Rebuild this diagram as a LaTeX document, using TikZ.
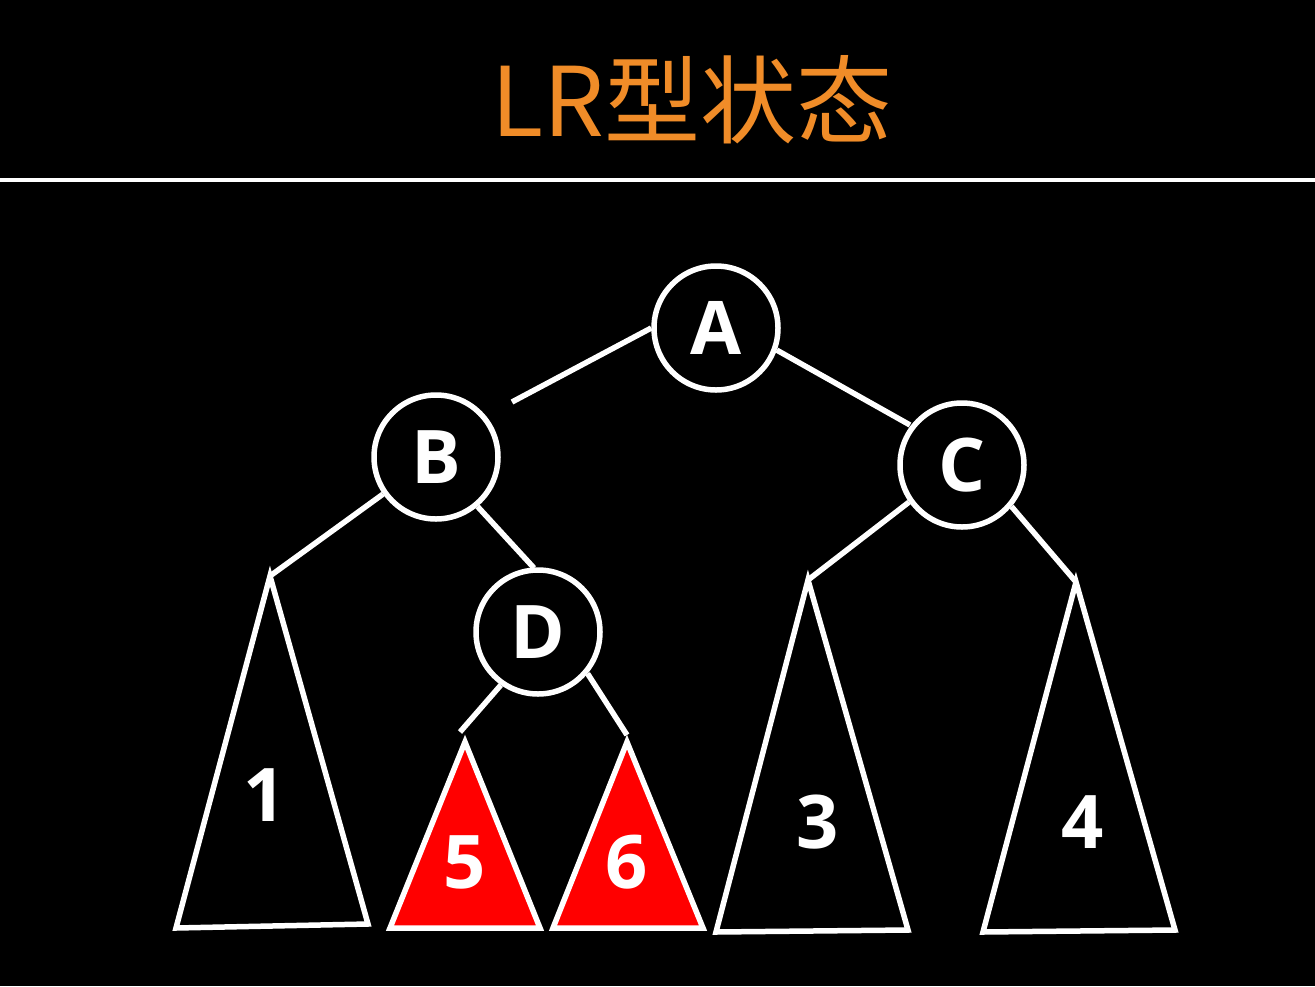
\documentclass[tikz,border=0pt]{standalone}
\usepackage{fontspec}
\setmainfont{Open Sans}
\newfontfamily\cjk{Noto Sans CJK SC}
\definecolor{titleor}{HTML}{F08C28}
\definecolor{tred}{HTML}{FF0000}
\begin{document}
\begin{tikzpicture}[x=1pt,y=-1pt,
  wl/.style={draw=white,line width=5.5pt},
  circ/.style={circle,wl,fill=black,minimum size=124pt,inner sep=0pt,text=white,font=\fontsize{74}{74}\selectfont\bfseries},
  lbl/.style={text=white,font=\fontsize{74}{74}\selectfont\bfseries},
  tri/.style={wl,line join=miter}]
\fill[black] (0,0) rectangle (1315,986);
\useasboundingbox (0,0) rectangle (1315,986);
\node[text=titleor,font=\cjk\fontsize{96}{96}\selectfont] (title) at (692,100) {LR型状态};
\coordinate (l0) at (0,180); \coordinate (l1) at (1315,180);
\draw[draw=white,line width=4pt] (l0) -- (l1);
\node[circ] (A) at (716,328) {A};
\node[circ] (B) at (436,457) {B};
\node[circ] (C) at (962,465) {C};
\node[circ] (D) at (538,632) {D};
% triangle apexes and edge ends
\coordinate (t1) at (270,576); \coordinate (t5) at (460,732);
\coordinate (t6) at (627,735); \coordinate (t3) at (808,580);
\coordinate (t4) at (1076,582);
\coordinate (ab) at (512,402); \coordinate (ac) at (910,425);
\coordinate (bd) at (534,568);
\draw[tri] (t1) -- (176,928) -- (368,924) -- cycle;
\draw[tri,fill=tred] (465,742) -- (390,928) -- (540,928) -- cycle;
\draw[tri,fill=tred] (627,742) -- (553,928) -- (703,928) -- cycle;
\draw[tri] (t3) -- (716,932) -- (908,930) -- cycle;
\draw[tri] (t4) -- (983,932) -- (1175,930) -- cycle;
\draw[wl] (A.180) -- (ab);
\draw[wl] (A.-20) -- (ac);
\draw[wl] (B.215) -- (t1);
\draw[wl] (B.-50) -- (bd);
\draw[wl] (C.215) -- (t3);
\draw[wl] (C.-40) -- (t4);
\draw[wl] (D.235) -- (t5);
\draw[wl] (D.-40) -- (t6);
\node[lbl] (n1) at (265,795) {1};
\node[lbl] (n5) at (465,862) {5};
\node[lbl] (n6) at (627,862) {6};
\node[lbl] (n3) at (818,822) {3};
\node[lbl] (n4) at (1083,822) {4};
\end{tikzpicture}
\end{document}
